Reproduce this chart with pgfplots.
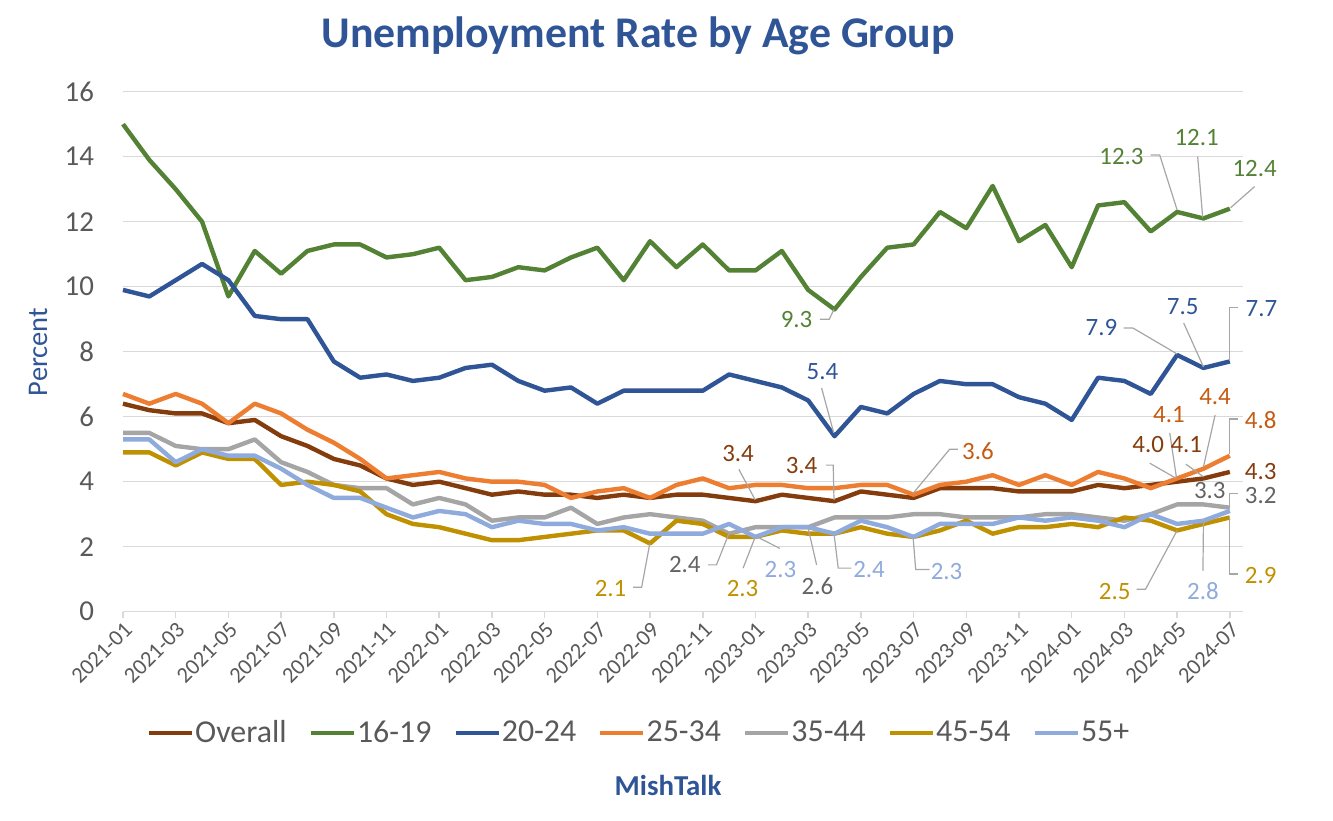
\documentclass[border=0pt]{standalone}
\usepackage{fontspec}
\setmainfont{Carlito}
\usepackage{pgfplots}
\pgfplotsset{compat=1.18}
\usepackage{pgfplotstable}
\definecolor{cOverall}{HTML}{843C0C}
\definecolor{cTeen}{HTML}{548235}
\definecolor{cYoung}{HTML}{2F5597}
\definecolor{cMid}{HTML}{ED7D31}
\definecolor{cMidTxt}{HTML}{C55A11}
\definecolor{cGray}{HTML}{A5A5A5}
\definecolor{cGrayTxt}{HTML}{636363}
\definecolor{cGold}{HTML}{BF9000}
\definecolor{cLight}{HTML}{8FAADC}
\definecolor{axisgray}{HTML}{595959}
\definecolor{gridgray}{HTML}{D9D9D9}
\definecolor{leadgray}{HTML}{A6A6A6}
\pgfplotstableread{
i overall teen young p2534 p3544 p4554 p55
0 6.4 15.0 9.9 6.7 5.5 4.9 5.3
1 6.2 13.9 9.7 6.4 5.5 4.9 5.3
2 6.1 13.0 10.2 6.7 5.1 4.5 4.6
3 6.1 12.0 10.7 6.4 5.0 4.9 5.0
4 5.8 9.7 10.2 5.8 5.0 4.7 4.8
5 5.9 11.1 9.1 6.4 5.3 4.7 4.8
6 5.4 10.4 9.0 6.1 4.6 3.9 4.4
7 5.1 11.1 9.0 5.6 4.3 4.0 3.9
8 4.7 11.3 7.7 5.2 3.9 3.9 3.5
9 4.5 11.3 7.2 4.7 3.8 3.7 3.5
10 4.1 10.9 7.3 4.1 3.8 3.0 3.2
11 3.9 11.0 7.1 4.2 3.3 2.7 2.9
12 4.0 11.2 7.2 4.3 3.5 2.6 3.1
13 3.8 10.2 7.5 4.1 3.3 2.4 3.0
14 3.6 10.3 7.6 4.0 2.8 2.2 2.6
15 3.7 10.6 7.1 4.0 2.9 2.2 2.8
16 3.6 10.5 6.8 3.9 2.9 2.3 2.7
17 3.6 10.9 6.9 3.5 3.2 2.4 2.7
18 3.5 11.2 6.4 3.7 2.7 2.5 2.5
19 3.6 10.2 6.8 3.8 2.9 2.5 2.6
20 3.5 11.4 6.8 3.5 3.0 2.1 2.4
21 3.6 10.6 6.8 3.9 2.9 2.8 2.4
22 3.6 11.3 6.8 4.1 2.8 2.7 2.4
23 3.5 10.5 7.3 3.8 2.4 2.3 2.7
24 3.4 10.5 7.1 3.9 2.6 2.3 2.3
25 3.6 11.1 6.9 3.9 2.6 2.5 2.6
26 3.5 9.9 6.5 3.8 2.6 2.4 2.6
27 3.4 9.3 5.4 3.8 2.9 2.4 2.4
28 3.7 10.3 6.3 3.9 2.9 2.6 2.8
29 3.6 11.2 6.1 3.9 2.9 2.4 2.6
30 3.5 11.3 6.7 3.6 3.0 2.3 2.3
31 3.8 12.3 7.1 3.9 3.0 2.5 2.7
32 3.8 11.8 7.0 4.0 2.9 2.8 2.7
33 3.8 13.1 7.0 4.2 2.9 2.4 2.7
34 3.7 11.4 6.6 3.9 2.9 2.6 2.9
35 3.7 11.9 6.4 4.2 3.0 2.6 2.8
36 3.7 10.6 5.9 3.9 3.0 2.7 2.9
37 3.9 12.5 7.2 4.3 2.9 2.6 2.8
38 3.8 12.6 7.1 4.1 2.8 2.9 2.6
39 3.9 11.7 6.7 3.8 3.0 2.8 3.0
40 4.0 12.3 7.9 4.1 3.3 2.5 2.7
41 4.1 12.1 7.5 4.4 3.3 2.7 2.8
42 4.3 12.4 7.7 4.8 3.2 2.9 3.1
}\data
\tikzset{
  lab/.style={font=\fontsize{12.5}{15}\selectfont, inner sep=0pt},
  lead/.style={draw=leadgray, line width=0.6bp}
}
\begin{document}
\begin{tikzpicture}
\path[use as bounding box] (0,0) rectangle (666.5bp,410.5bp);
\node[font=\fontsize{22}{26}\selectfont\bfseries, text=cYoung] at (319bp,392.5bp) {Unemployment Rate by Age Group};
\node[rotate=90, font=\fontsize{14.3}{17}\selectfont, text=cYoung] at (19bp,234.5bp) {Percent};
\node[font=\fontsize{14.5}{17}\selectfont\bfseries, text=cYoung] at (334bp,18bp) {MishTalk};
\begin{axis}[
  at={(61.5bp,104.65bp)}, anchor=south west,
  scale only axis, width=560bp, height=260bp,
  xmin=0, xmax=42.5, ymin=0, ymax=16,
  axis line style={draw=none},
  ytick={0,2,...,16},
  xtick={0,2,...,42},
  xticklabels={2021-01,2021-03,2021-05,2021-07,2021-09,2021-11,2022-01,2022-03,2022-05,2022-07,2022-09,2022-11,2023-01,2023-03,2023-05,2023-07,2023-09,2023-11,2024-01,2024-03,2024-05,2024-07},
  ymajorgrids, grid style={gridgray, line width=0.75bp},
  tick align=outside, xtick pos=left, ytick pos=left,
  major tick length=3bp,
  xtick style={gridgray, line width=0.75bp},
  ytick style={draw=none},
  /pgf/number format/assume math mode=true,
  yticklabel style={font=\fontsize{14.5}{17}\selectfont, text=axisgray, xshift=-8bp},
  xticklabel style={font=\fontsize{11.3}{13}\selectfont, text=axisgray, rotate=45, anchor=north east, inner sep=1bp},
  legend columns=7,
  legend style={at={(0.4603,-0.2333)}, anchor=center, draw=none, fill=none,
    font=\fontsize{16}{19}\selectfont, text=axisgray,
    nodes={inner sep=0.5bp},
    /tikz/every even column/.append style={column sep=10.5bp}, inner sep=0pt},
  legend image code/.code={\draw[#1, line width=2.2bp] (0bp,0bp) -- (21.5bp,0bp);},
  every axis plot/.append style={line width=2.2bp, line join=round, mark=none},
  clip=false,
]
\addplot[cOverall] table[x=i,y=overall]{\data}; \addlegendentry{Overall}
\addplot[cTeen] table[x=i,y=teen]{\data}; \addlegendentry{16-19}
\addplot[cYoung] table[x=i,y=young]{\data}; \addlegendentry{20-24}
\addplot[cMid] table[x=i,y=p2534]{\data}; \addlegendentry{25-34}
\addplot[cGray] table[x=i,y=p3544]{\data}; \addlegendentry{35-44}
\addplot[cGold] table[x=i,y=p4554]{\data}; \addlegendentry{45-54}
\addplot[cLight] table[x=i,y=p55]{\data}; \addlegendentry{55+}

% green
\node[lab, text=cTeen] at (axis cs:25.56,8.98) {9.3};
\draw[lead] (axis cs:26.44,9.0) -- (axis cs:26.80,9.0) -- (axis cs:26.98,9.3);
\node[lab, text=cTeen] at (axis cs:37.89,14.0) {12.3};
\draw[lead] (axis cs:38.99,14.05) -- (axis cs:39.34,14.05) -- (axis cs:40.0,12.36);
\node[lab, text=cTeen] at (axis cs:40.74,14.58) {12.1};
\draw[lead] (axis cs:40.78,14.0) -- (axis cs:40.97,12.13);
\node[lab, text=cTeen] at (axis cs:42.94,13.65) {12.4};
\draw[lead] (axis cs:42.94,13.08) -- (axis cs:42.03,12.43);
% blue
\node[lab, text=cYoung] at (axis cs:26.54,7.38) {5.4};
\draw[lead] (axis cs:26.51,6.88) -- (axis cs:26.97,5.5);
\node[lab, text=cYoung] at (axis cs:37.13,8.73) {7.9};
\draw[lead] (axis cs:37.97,8.73) -- (axis cs:38.32,8.73) -- (axis cs:40.0,7.93);
\node[lab, text=cYoung] at (axis cs:40.21,9.38) {7.5};
\draw[lead] (axis cs:40.25,8.88) -- (axis cs:41.0,7.53);
\node[lab, text=cYoung] at (axis cs:43.2,9.34) {7.7};
\draw[lead] (axis cs:42.3,9.37) -- (axis cs:42.0,9.37) -- (axis cs:42.0,7.72);
% orange
\node[lab, text=cMidTxt] at (axis cs:32.44,4.94) {3.6};
\draw[lead] (axis cs:31.68,5.0) -- (axis cs:31.37,5.0) -- (axis cs:29.98,3.64);
\node[lab, text=cMidTxt] at (axis cs:39.69,6.05) {4.1};
\draw[lead] (axis cs:39.72,5.5) -- (axis cs:39.97,4.15);
\node[lab, text=cMidTxt] at (axis cs:41.44,6.62) {4.4};
\draw[lead] (axis cs:41.44,6.05) -- (axis cs:41.0,4.46);
\node[lab, text=cMidTxt] at (axis cs:43.17,5.9) {4.8};
\draw[lead] (axis cs:42.3,5.93) -- (axis cs:42.0,5.93) -- (axis cs:42.0,4.85);
% overall
\node[lab, text=cOverall] at (axis cs:23.34,4.87) {3.4};
\draw[lead] (axis cs:23.37,4.38) -- (axis cs:23.99,3.44);
\node[lab, text=cOverall] at (axis cs:25.75,4.51) {3.4};
\draw[lead] (axis cs:26.67,4.51) -- (axis cs:26.95,4.51) -- (axis cs:26.98,3.44);
\node[lab, text=cOverall] at (axis cs:38.9,5.13) {4.0};
\draw[lead] (axis cs:38.96,4.57) -- (axis cs:39.97,4.1);
\node[lab, text=cOverall] at (axis cs:40.35,5.13) {4.1};
\draw[lead] (axis cs:40.33,4.54) -- (axis cs:41.0,4.15);
\node[lab, text=cOverall] at (axis cs:43.17,4.31) {4.3};
% gray
\node[lab, text=cGrayTxt] at (axis cs:21.32,1.44) {2.4};
\draw[lead] (axis cs:22.2,1.44) -- (axis cs:22.52,1.44) -- (axis cs:22.99,2.4);
\node[lab, text=cGrayTxt] at (axis cs:26.35,0.77) {2.6};
\draw[lead] (axis cs:26.32,1.44) -- (axis cs:25.99,2.6);
\node[lab, text=cGrayTxt] at (axis cs:41.24,3.74) {3.3};
\node[lab, text=cGrayTxt] at (axis cs:43.17,3.59) {3.2};
\draw[lead] (axis cs:42.3,3.64) -- (axis cs:42.0,3.64) -- (axis cs:42.0,3.25);
% gold
\node[lab, text=cGold] at (axis cs:18.5,0.72) {2.1};
\draw[lead] (axis cs:19.36,0.75) -- (axis cs:19.68,0.75) -- (axis cs:19.99,2.1);
\node[lab, text=cGold] at (axis cs:23.51,0.72) {2.3};
\draw[lead] (axis cs:23.53,1.34) -- (axis cs:23.99,2.3);
\node[lab, text=cGold] at (axis cs:37.63,0.62) {2.5};
\draw[lead] (axis cs:38.46,0.69) -- (axis cs:38.8,0.69) -- (axis cs:40.0,2.5);
\node[lab, text=cGold] at (axis cs:43.17,1.1) {2.9};
\draw[lead] (axis cs:42.3,1.16) -- (axis cs:42.0,1.16) -- (axis cs:42.0,2.9);
% light blue
\node[lab, text=cLight] at (axis cs:24.95,1.3) {2.3};
\draw[lead] (axis cs:24.92,1.95) -- (axis cs:23.99,2.33);
\node[lab, text=cLight] at (axis cs:28.31,1.3) {2.4};
\draw[lead] (axis cs:27.64,1.34) -- (axis cs:27.14,1.34) -- (axis cs:26.98,2.4);
\node[lab, text=cLight] at (axis cs:31.25,1.23) {2.3};
\draw[lead] (axis cs:30.61,1.3) -- (axis cs:30.08,1.3) -- (axis cs:29.98,2.3);
\node[lab, text=cLight] at (axis cs:40.98,0.62) {2.8};
\draw[lead] (axis cs:40.98,1.26) -- (axis cs:41.0,2.8);
\end{axis}
\end{tikzpicture}
\end{document}
